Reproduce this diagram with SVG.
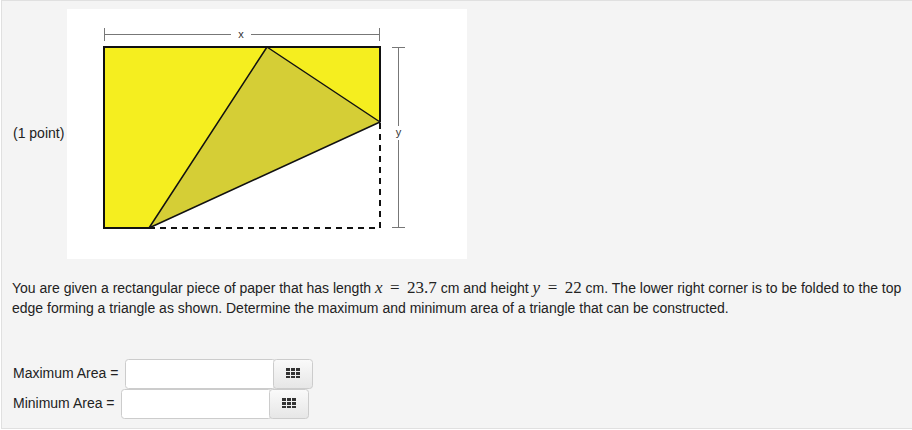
<svg xmlns="http://www.w3.org/2000/svg" width="912" height="430" viewBox="0 0 912 430">
<style>
.t{font-family:"Liberation Sans",Arial,sans-serif;font-size:14px;fill:#222}
.m{font-family:"Liberation Serif","Times New Roman",serif;font-size:17px;fill:#222}
.lbl{font-family:"Liberation Sans",Arial,sans-serif;font-size:11px;fill:#333}
.dim{stroke:#777;stroke-width:1;fill:none}
.edge{stroke:#111;stroke-width:2;fill:none}
.dash{stroke:#111;stroke-width:2;stroke-dasharray:6,5;fill:none}
.inp{fill:#fff;stroke:#ccc;stroke-width:1}
.btn{fill:url(#g);stroke:#ccc;stroke-width:1}
.ic{fill:#333}
</style>
<defs>
<linearGradient id="g" x1="0" y1="0" x2="0" y2="1">
<stop offset="0" stop-color="#fafafa"/>
<stop offset="1" stop-color="#e6e6e6"/>
</linearGradient>
<g id="grid">
<rect class="ic" x="0" y="0" width="4" height="3"/><rect class="ic" x="5" y="0" width="4" height="3"/><rect class="ic" x="10" y="0" width="4" height="3"/>
<rect class="ic" x="0" y="4" width="4" height="3"/><rect class="ic" x="5" y="4" width="4" height="3"/><rect class="ic" x="10" y="4" width="4" height="3"/>
<rect class="ic" x="0" y="8" width="4" height="2"/><rect class="ic" x="5" y="8" width="4" height="2"/><rect class="ic" x="10" y="8" width="4" height="2"/>
</g>
</defs>
<rect x="0" y="0" width="912" height="430" fill="#fff"/>
<rect x="1.5" y="0.5" width="912" height="428" fill="#f4f4f4" stroke="#e0e0e0"/>
<text class="t" x="13" y="138">(1 point)</text>

<g id="figure">
<rect x="67" y="9" width="400" height="250" fill="#fff"/>
<g id="paper">
<rect x="104" y="47" width="276" height="181" fill="#f5ee1f"/>
<polygon points="149,228 380,228 380,122" fill="#fff"/>
</g>
<g id="triangle">
<polygon points="267,47 380,122 149,228" fill="#d5ce36" stroke="#111" stroke-width="1.5" stroke-linejoin="round"/>
</g>
<g id="connectors">
<polyline class="edge" points="380,122 380,47 104,47 104,228 149,228"/>
<polyline class="dash" points="149,228 380,228 380,122"/>
<line class="dim" x1="104" y1="34.5" x2="231" y2="34.5"/>
<line class="dim" x1="251" y1="34.5" x2="380" y2="34.5"/>
<line class="dim" x1="104.5" y1="28" x2="104.5" y2="41"/>
<line class="dim" x1="379.5" y1="28" x2="379.5" y2="41"/>
<line class="dim" x1="398.5" y1="47" x2="398.5" y2="126"/>
<line class="dim" x1="398.5" y1="140" x2="398.5" y2="228"/>
<line class="dim" x1="392" y1="47.5" x2="405" y2="47.5"/>
<line class="dim" x1="392" y1="227.5" x2="405" y2="227.5"/>
</g>
<text class="lbl" x="241" y="38" text-anchor="middle">x</text>
<text class="lbl" x="398.5" y="136" text-anchor="middle">y</text>
</g>

<text class="t" x="12" y="293">You are given a rectangular piece of paper that has length <tspan class="m" font-style="italic">x</tspan><tspan class="m" dx="7.5">=</tspan><tspan class="m" dx="7.5">23.7</tspan> cm and height <tspan class="m" font-style="italic">y</tspan><tspan class="m" dx="7.5">=</tspan><tspan class="m" dx="7.5">22</tspan> cm. The lower right corner is to be folded to the top</text>
<text class="t" x="12" y="313">edge forming a triangle as shown. Determine the maximum and minimum area of a triangle that can be constructed.</text>

<g id="max">
<text class="t" x="13" y="378">Maximum Area =</text>
<rect class="inp" x="125.5" y="359.5" width="150" height="29" rx="3"/>
<rect class="btn" x="273.5" y="359.5" width="39" height="29" rx="3"/>
<use href="#grid" x="286" y="368"/>
</g>
<g id="min">
<text class="t" x="13" y="408">Minimum Area =</text>
<rect class="inp" x="121.5" y="389.5" width="150" height="29" rx="3"/>
<rect class="btn" x="269.5" y="389.5" width="39" height="29" rx="3"/>
<use href="#grid" x="282" y="398"/>
</g>
</svg>
